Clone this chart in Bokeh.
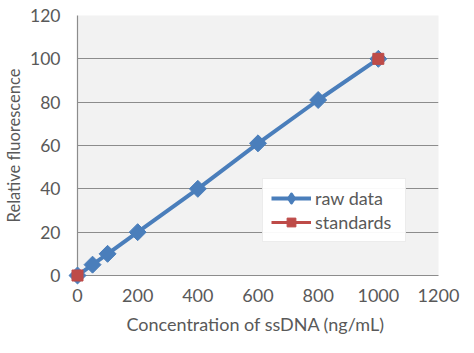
import math
from bokeh.plotting import figure
from bokeh.models import Range1d, FixedTicker, Legend, LegendItem
from bokeh.embed import file_html
from bokeh.resources import INLINE

raw_x = [0, 50, 100, 200, 400, 600, 800, 1000]
raw_y = [0, 5, 10, 20, 40, 61, 81, 100]
std_x = [0, 1000]
std_y = [0, 100]
x_ticks = [0, 200, 400, 600, 800, 1000, 1200]
y_ticks = [0, 20, 40, 60, 80, 100, 120]

FONT = "Lato"
TXT = "#595959"

p = figure(width=474, height=353, output_backend="svg", toolbar_location=None,
           x_range=Range1d(0, 1200), y_range=Range1d(0, 120),
           min_border_left=77, min_border_right=36, min_border_top=15, min_border_bottom=78)
p.background_fill_color = "#F2F2F2"
p.border_fill_color = "white"
p.outline_line_color = None

p.xgrid.grid_line_color = None
p.ygrid.grid_line_color = "#8C8C8C"
p.ygrid.grid_line_width = 1.2
p.xaxis.ticker = FixedTicker(ticks=x_ticks)
p.yaxis.ticker = FixedTicker(ticks=y_ticks)
for ax in (p.xaxis[0], p.yaxis[0]):
    ax.axis_line_color = "#8C8C8C"
    ax.axis_line_width = 1.2
    ax.major_tick_line_color = None
    ax.minor_tick_line_color = None
    ax.major_tick_out = 0
    ax.major_label_text_font = FONT
    ax.major_label_text_color = TXT
    ax.axis_label_text_font = FONT
    ax.axis_label_text_font_style = "normal"
    ax.axis_label_text_color = TXT
p.xaxis.major_label_text_font_size = "18px"
p.yaxis.major_label_text_font_size = "17.5px"
p.xaxis.axis_label = "Concentration of  ssDNA (ng/mL)"
p.yaxis.axis_label = "Relative fluorescence"
p.xaxis.axis_label_text_font_size = "18px"
p.yaxis.axis_label_text_font_size = "16.5px"
p.xaxis.major_label_standoff = 13
p.yaxis.major_label_standoff = 17
p.xaxis.axis_label_standoff = 8
p.yaxis.axis_label_standoff = 3

blue = "#4A7EBB"
red = "#BE4B48"
# legend-only helpers (hidden beneath real marks)
sl = p.line(std_x[:1], std_y[:1], line_color=red, line_width=3)
bd = p.scatter(raw_x, raw_y, marker="diamond", size=11, fill_color=blue, line_color=blue,
               line_width=3, line_join="round")
bl = p.line(raw_x, raw_y, line_color=blue, line_width=4)
bm = p.scatter(raw_x, raw_y, marker="square", angle=math.pi / 4, size=12,
               fill_color=blue, line_color=blue, level="overlay")
sm = p.scatter(std_x, std_y, marker="square", size=11, fill_color=red, line_color=red,
               level="overlay")

legend = Legend(items=[LegendItem(label="raw data", renderers=[bl, bd]),
                       LegendItem(label="standards", renderers=[sl, sm])],
                location=(185, 33))
legend.background_fill_color = "white"
legend.border_line_color = "#D9D9D9"
legend.label_text_font = FONT
legend.label_text_font_size = "18px"
legend.label_text_color = TXT
legend.glyph_width = 40
legend.glyph_height = 22
legend.label_width = 82
legend.label_height = 22
legend.label_standoff = 4
legend.spacing = 2
legend.padding = 8
legend.margin = 0
p.add_layout(legend, "center")

open("out.html", "w").write(file_html(p, INLINE))
